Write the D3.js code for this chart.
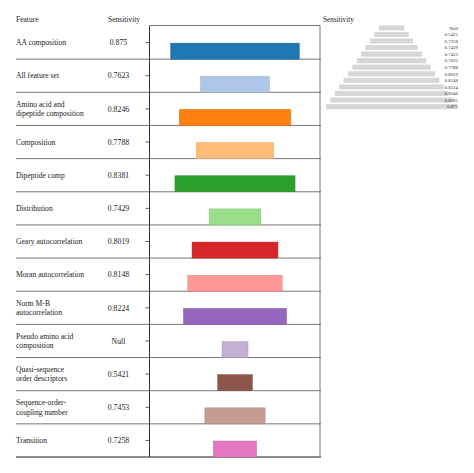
<!DOCTYPE html>
<html>
<head>
<meta charset="utf-8">
<script src="https://cdn.jsdelivr.net/npm/d3@7/dist/d3.min.js"></script>
<style>
  html, body { margin: 0; padding: 0; background: #fff; }
  svg { display: block; font-family: "Liberation Serif", "DejaVu Serif", serif; }
</style>
</head>
<body>
<svg id="chart" width="474" height="473"></svg>
<script>
// ---- data ----
const features = [
  ["AA composition"],
  ["All feature set"],
  ["Amino acid and", "dipeptide composition"],
  ["Composition"],
  ["Dipeptide comp"],
  ["Distribution"],
  ["Geary autocorrelation"],
  ["Moran autocorrelation"],
  ["Norm M-B", "autocorrelation"],
  ["Pseudo amino acid", "composition"],
  ["Quasi-sequence", "order descriptors"],
  ["Sequence-order-", "coupling number"],
  ["Transition"]
];
const sensitivity = [0.875, 0.7623, 0.8246, 0.7788, 0.8381, 0.7429, 0.8019, 0.8148, 0.8224, null, 0.5421, 0.7453, 0.7258];
const sensitivityLabels = ["0.875", "0.7623", "0.8246", "0.7788", "0.8381", "0.7429", "0.8019", "0.8148", "0.8224", "Null", "0.5421", "0.7453", "0.7258"];
const colors = ["#1f77b4","#aec7e8","#ff7f0e","#ffbb78","#2ca02c","#98df8a","#d62728","#ff9896","#9467bd","#c5b0d5","#8c564b","#c49c94","#e377c2"];

// ---- layout ----
const svg = d3.select("#chart");
const idx = d3.range(features.length);
const plotLeft = 149.5, plotRight = 320, plotTop = 26, plotBottom = 457;
const centerX = 235;
const textColor = "#1a1a1a";

// rank of each value (Null is lowest)
const order = idx.slice().sort((a, b) => (sensitivity[a] ?? -Infinity) - (sensitivity[b] ?? -Infinity));
const rank = new Array(idx.length);
order.forEach((k, r) => rank[k] = r);

const y = d3.scaleBand().domain(idx).range([plotTop, plotBottom]).padding(0);
const w = d3.scaleLinear().domain([0, features.length - 1]).range([26, 128.6]);
const barH = 16;

// header
svg.append("text").attr("x", 16).attr("y", 22).attr("font-size", 7.5).attr("fill", textColor).text("Feature");
svg.append("text").attr("x", 108).attr("y", 22).attr("font-size", 7.5).attr("fill", textColor).text("Sensitivity");

// row separators
svg.append("g").selectAll("line").data(idx).join("line")
  .attr("x1", 16).attr("x2", plotRight + 1)
  .attr("y1", d => y(d) + y.bandwidth()).attr("y2", d => y(d) + y.bandwidth())
  .attr("stroke", "#666").attr("stroke-width", d => d === idx.length - 1 ? 1.3 : 0.9);

// plot frame
svg.append("line").attr("x1", plotLeft).attr("x2", plotRight).attr("y1", plotTop - 0.5).attr("y2", plotTop - 0.5).attr("stroke", "#666").attr("stroke-width", 0.9);
svg.append("line").attr("x1", plotRight).attr("x2", plotRight).attr("y1", plotTop - 0.5).attr("y2", plotBottom).attr("stroke", "#666").attr("stroke-width", 0.9);

// left axis with ticks
const axis = d3.axisLeft(y).tickSize(4).tickFormat("");
const gAxis = svg.append("g").attr("transform", `translate(${plotLeft},0)`).call(axis);
gAxis.select(".domain").attr("stroke", "#333").attr("stroke-width", 1).attr("d", `M0,${plotTop}V${plotBottom}`);
gAxis.selectAll(".tick line").attr("stroke", "#333").attr("stroke-width", 0.8);

// feature labels
const lh = 9.3;
svg.append("g").selectAll("text").data(idx).join("text")
  .attr("x", 16).attr("font-size", 7.6).attr("fill", textColor)
  .each(function(d) {
    const lines = features[d];
    const cy = y(d) + y.bandwidth() / 2;
    const t = d3.select(this);
    lines.forEach((s, i) => {
      t.append("tspan").attr("x", 16)
        .attr("y", cy + (i - (lines.length - 1) / 2) * lh)
        .attr("dy", "0.35em").text(s);
    });
  });

// sensitivity labels
svg.append("g").selectAll("text").data(idx).join("text")
  .attr("x", 118.5).attr("y", d => y(d) + y.bandwidth() / 2).attr("dy", "0.35em")
  .attr("text-anchor", "middle").attr("font-size", 7.8).attr("fill", textColor)
  .text(d => sensitivityLabels[d]);

// funnel bars
svg.append("g").selectAll("rect").data(idx).join("rect")
  .attr("x", d => centerX - w(rank[d]) / 2)
  .attr("width", d => w(rank[d]))
  .attr("y", d => y(d) + y.bandwidth() - barH)
  .attr("height", barH)
  .attr("fill", d => colors[d])
  .attr("stroke", d => d3.color(colors[d]).darker(0.4))
  .attr("stroke-width", 0.5);

// ---- mini chart (sorted) ----
svg.append("text").attr("x", 323).attr("y", 22).attr("font-size", 7.2).attr("fill", textColor).text("Sensitivity");
const ym = d3.scaleBand().domain(order).range([25, 109.5]).paddingInner(0.22).paddingOuter(0.05);
const wm = d3.scaleLinear().domain([0, features.length - 1]).range([25.5, 131]);
const miniCx = 391.5;
svg.append("g").selectAll("rect").data(order).join("rect")
  .attr("x", d => miniCx - wm(rank[d]) / 2)
  .attr("width", d => wm(rank[d]))
  .attr("y", d => ym(d)).attr("height", ym.bandwidth())
  .attr("fill", "#d6d6d6");
svg.append("g").selectAll("text").data(order).join("text")
  .attr("x", 458).attr("y", d => ym(d) + ym.bandwidth() / 2).attr("dy", "0.35em")
  .attr("text-anchor", "end").attr("font-size", 4.9).attr("fill", "#333")
  .text(d => sensitivityLabels[d]);
</script>
</body>
</html>
